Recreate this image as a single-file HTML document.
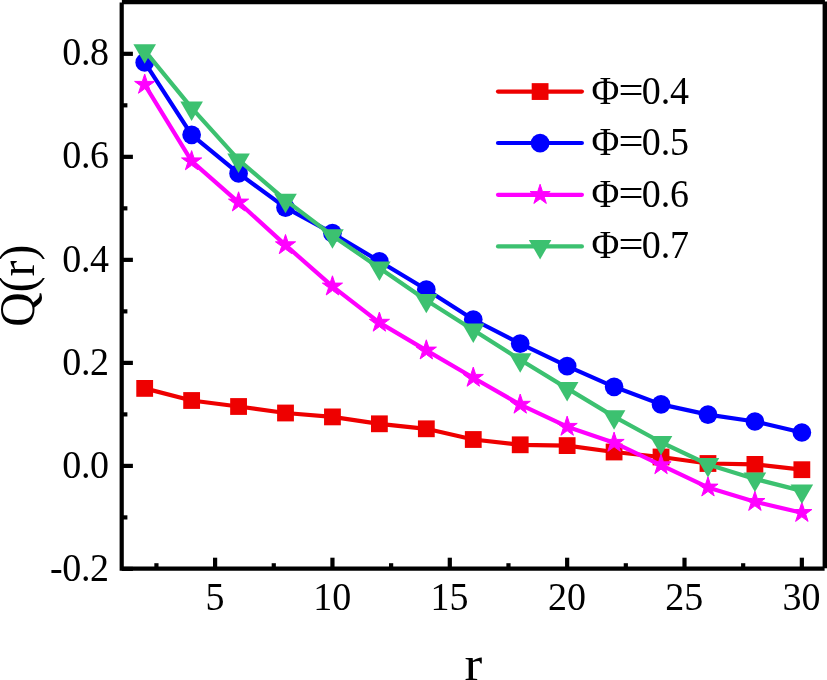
<!DOCTYPE html>
<html lang="en"><head><meta charset="utf-8"><title>Q(r) versus r</title>
<style>
html,body{margin:0;padding:0;background:#fff;}
body{width:827px;height:680px;overflow:hidden;}
svg{display:block;}
text{font-family:"Liberation Serif","Times New Roman",Times,serif;fill:#000;}
.tick{font-size:38px;}
.yt{letter-spacing:-0.4px;}
.lab{font-size:48.5px;}
.leg{font-size:38px;}
</style></head><body>
<svg width="827" height="680" viewBox="0 0 827 680">
<rect x="0" y="0" width="827" height="680" fill="#fff"/>

<g stroke="#000" stroke-width="4.2" fill="none" stroke-linecap="butt">
<line x1="121.9" y1="2.1" x2="824.9000000000001" y2="2.1"/>
<rect x="822.6" y="1.5" width="4.4" height="566.75" fill="#000" stroke="none"/>
<polyline points="121.7,2.6 121.7,568.65 824.6,568.65" stroke-linejoin="miter"/>
<line x1="121.7" y1="568.92" x2="132.9" y2="568.92"/>
<line x1="121.7" y1="517.41" x2="127.4" y2="517.41"/>
<line x1="121.7" y1="465.90" x2="132.9" y2="465.90"/>
<line x1="121.7" y1="414.39" x2="127.4" y2="414.39"/>
<line x1="121.7" y1="362.88" x2="132.9" y2="362.88"/>
<line x1="121.7" y1="311.37" x2="127.4" y2="311.37"/>
<line x1="121.7" y1="259.86" x2="132.9" y2="259.86"/>
<line x1="121.7" y1="208.35" x2="127.4" y2="208.35"/>
<line x1="121.7" y1="156.84" x2="132.9" y2="156.84"/>
<line x1="121.7" y1="105.33" x2="127.4" y2="105.33"/>
<line x1="121.7" y1="53.82" x2="132.9" y2="53.82"/>
<line x1="156.43" y1="568.65" x2="156.43" y2="563.2"/>
<line x1="215.10" y1="568.65" x2="215.10" y2="557.7"/>
<line x1="273.77" y1="568.65" x2="273.77" y2="563.2"/>
<line x1="332.45" y1="568.65" x2="332.45" y2="557.7"/>
<line x1="391.12" y1="568.65" x2="391.12" y2="563.2"/>
<line x1="449.80" y1="568.65" x2="449.80" y2="557.7"/>
<line x1="508.47" y1="568.65" x2="508.47" y2="563.2"/>
<line x1="567.15" y1="568.65" x2="567.15" y2="557.7"/>
<line x1="625.82" y1="568.65" x2="625.82" y2="563.2"/>
<line x1="684.50" y1="568.65" x2="684.50" y2="557.7"/>
<line x1="743.17" y1="568.65" x2="743.17" y2="563.2"/>
<line x1="801.85" y1="568.65" x2="801.85" y2="557.7"/>
</g>
<g class="tick yt" text-anchor="end">
<text transform="translate(108.6,580.5) scale(1,1.045)">-0.2</text>
<text transform="translate(108.6,477.5) scale(1,1.045)">0.0</text>
<text transform="translate(108.6,374.5) scale(1,1.045)">0.2</text>
<text transform="translate(108.6,271.5) scale(1,1.045)">0.4</text>
<text transform="translate(108.6,168.4) scale(1,1.045)">0.6</text>
<text transform="translate(108.6,65.4) scale(1,1.045)">0.8</text>
</g>
<g class="tick" text-anchor="middle">
<text transform="translate(214.9,609.8) scale(1,1.045)">5</text>
<text transform="translate(332.2,609.8) scale(1,1.045)">10</text>
<text transform="translate(449.6,609.8) scale(1,1.045)">15</text>
<text transform="translate(566.9,609.8) scale(1,1.045)">20</text>
<text transform="translate(684.3,609.8) scale(1,1.045)">25</text>
<text transform="translate(801.6,609.8) scale(1,1.045)">30</text>
</g>
<text class="lab" text-anchor="middle" transform="translate(34.4,285.7) rotate(-90) scale(0.983,1.05)">Q(r)</text>
<text class="lab" text-anchor="middle" transform="translate(473.4,679.8) scale(1.1,1.0)">r</text>
<polyline points="144.69,388.40 191.63,400.50 238.57,406.50 285.51,413.00 332.45,416.90 379.39,423.80 426.33,428.80 473.27,439.50 520.21,444.80 567.15,445.60 614.09,452.00 661.03,457.00 707.97,463.50 754.91,464.40 801.85,469.70" fill="none" stroke="#EE0000" stroke-width="4.2" stroke-linejoin="round" stroke-linecap="round"/>
<g fill="#EE0000"><rect x="136.29" y="380.00" width="16.8" height="16.8"/><rect x="183.23" y="392.10" width="16.8" height="16.8"/><rect x="230.17" y="398.10" width="16.8" height="16.8"/><rect x="277.11" y="404.60" width="16.8" height="16.8"/><rect x="324.05" y="408.50" width="16.8" height="16.8"/><rect x="370.99" y="415.40" width="16.8" height="16.8"/><rect x="417.93" y="420.40" width="16.8" height="16.8"/><rect x="464.87" y="431.10" width="16.8" height="16.8"/><rect x="511.81" y="436.40" width="16.8" height="16.8"/><rect x="558.75" y="437.20" width="16.8" height="16.8"/><rect x="605.69" y="443.60" width="16.8" height="16.8"/><rect x="652.63" y="448.60" width="16.8" height="16.8"/><rect x="699.57" y="455.10" width="16.8" height="16.8"/><rect x="746.51" y="456.00" width="16.8" height="16.8"/><rect x="793.45" y="461.30" width="16.8" height="16.8"/></g>
<polyline points="144.69,62.40 191.63,134.80 238.57,173.40 285.51,207.60 332.45,233.20 379.39,261.30 426.33,289.50 473.27,319.50 520.21,343.60 567.15,366.10 614.09,386.80 661.03,404.40 707.97,414.60 754.91,421.50 801.85,432.50" fill="none" stroke="#0000FF" stroke-width="4.2" stroke-linejoin="round" stroke-linecap="round"/>
<g fill="#0000FF"><circle cx="144.69" cy="62.40" r="9.35"/><circle cx="191.63" cy="134.80" r="9.35"/><circle cx="238.57" cy="173.40" r="9.35"/><circle cx="285.51" cy="207.60" r="9.35"/><circle cx="332.45" cy="233.20" r="9.35"/><circle cx="379.39" cy="261.30" r="9.35"/><circle cx="426.33" cy="289.50" r="9.35"/><circle cx="473.27" cy="319.50" r="9.35"/><circle cx="520.21" cy="343.60" r="9.35"/><circle cx="567.15" cy="366.10" r="9.35"/><circle cx="614.09" cy="386.80" r="9.35"/><circle cx="661.03" cy="404.40" r="9.35"/><circle cx="707.97" cy="414.60" r="9.35"/><circle cx="754.91" cy="421.50" r="9.35"/><circle cx="801.85" cy="432.50" r="9.35"/></g>
<polyline points="144.69,84.70 191.63,161.20 238.57,202.40 285.51,245.10 332.45,286.40 379.39,322.60 426.33,350.40 473.27,377.70 520.21,404.60 567.15,426.70 614.09,442.70 661.03,465.10 707.97,487.40 754.91,501.80 801.85,512.80" fill="none" stroke="#FF00FF" stroke-width="4.2" stroke-linejoin="round" stroke-linecap="round"/>
<g fill="#FF00FF"><polygon points="144.69,74.10 147.07,81.42 154.77,81.42 148.54,85.95 150.92,93.28 144.69,88.75 138.46,93.28 140.84,85.95 134.61,81.42 142.31,81.42" stroke="#FF00FF" stroke-width="1" stroke-linejoin="round"/><polygon points="191.63,150.60 194.01,157.92 201.71,157.92 195.48,162.45 197.86,169.78 191.63,165.25 185.40,169.78 187.78,162.45 181.55,157.92 189.25,157.92" stroke="#FF00FF" stroke-width="1" stroke-linejoin="round"/><polygon points="238.57,191.80 240.95,199.12 248.65,199.12 242.42,203.65 244.80,210.98 238.57,206.45 232.34,210.98 234.72,203.65 228.49,199.12 236.19,199.12" stroke="#FF00FF" stroke-width="1" stroke-linejoin="round"/><polygon points="285.51,234.50 287.89,241.82 295.59,241.82 289.36,246.35 291.74,253.68 285.51,249.15 279.28,253.68 281.66,246.35 275.43,241.82 283.13,241.82" stroke="#FF00FF" stroke-width="1" stroke-linejoin="round"/><polygon points="332.45,275.80 334.83,283.12 342.53,283.12 336.30,287.65 338.68,294.98 332.45,290.45 326.22,294.98 328.60,287.65 322.37,283.12 330.07,283.12" stroke="#FF00FF" stroke-width="1" stroke-linejoin="round"/><polygon points="379.39,312.00 381.77,319.32 389.47,319.32 383.24,323.85 385.62,331.18 379.39,326.65 373.16,331.18 375.54,323.85 369.31,319.32 377.01,319.32" stroke="#FF00FF" stroke-width="1" stroke-linejoin="round"/><polygon points="426.33,339.80 428.71,347.12 436.41,347.12 430.18,351.65 432.56,358.98 426.33,354.45 420.10,358.98 422.48,351.65 416.25,347.12 423.95,347.12" stroke="#FF00FF" stroke-width="1" stroke-linejoin="round"/><polygon points="473.27,367.10 475.65,374.42 483.35,374.42 477.12,378.95 479.50,386.28 473.27,381.75 467.04,386.28 469.42,378.95 463.19,374.42 470.89,374.42" stroke="#FF00FF" stroke-width="1" stroke-linejoin="round"/><polygon points="520.21,394.00 522.59,401.32 530.29,401.32 524.06,405.85 526.44,413.18 520.21,408.65 513.98,413.18 516.36,405.85 510.13,401.32 517.83,401.32" stroke="#FF00FF" stroke-width="1" stroke-linejoin="round"/><polygon points="567.15,416.10 569.53,423.42 577.23,423.42 571.00,427.95 573.38,435.28 567.15,430.75 560.92,435.28 563.30,427.95 557.07,423.42 564.77,423.42" stroke="#FF00FF" stroke-width="1" stroke-linejoin="round"/><polygon points="614.09,432.10 616.47,439.42 624.17,439.42 617.94,443.95 620.32,451.28 614.09,446.75 607.86,451.28 610.24,443.95 604.01,439.42 611.71,439.42" stroke="#FF00FF" stroke-width="1" stroke-linejoin="round"/><polygon points="661.03,454.50 663.41,461.82 671.11,461.82 664.88,466.35 667.26,473.68 661.03,469.15 654.80,473.68 657.18,466.35 650.95,461.82 658.65,461.82" stroke="#FF00FF" stroke-width="1" stroke-linejoin="round"/><polygon points="707.97,476.80 710.35,484.12 718.05,484.12 711.82,488.65 714.20,495.98 707.97,491.45 701.74,495.98 704.12,488.65 697.89,484.12 705.59,484.12" stroke="#FF00FF" stroke-width="1" stroke-linejoin="round"/><polygon points="754.91,491.20 757.29,498.52 764.99,498.52 758.76,503.05 761.14,510.38 754.91,505.85 748.68,510.38 751.06,503.05 744.83,498.52 752.53,498.52" stroke="#FF00FF" stroke-width="1" stroke-linejoin="round"/><polygon points="801.85,502.20 804.23,509.52 811.93,509.52 805.70,514.05 808.08,521.38 801.85,516.85 795.62,521.38 798.00,514.05 791.77,509.52 799.47,509.52" stroke="#FF00FF" stroke-width="1" stroke-linejoin="round"/></g>
<polyline points="144.69,50.65 191.63,107.85 238.57,159.85 285.51,200.15 332.45,235.65 379.39,267.95 426.33,300.25 473.27,329.95 520.21,359.65 567.15,388.35 614.09,416.65 661.03,442.25 707.97,464.45 754.91,478.95 801.85,490.85" fill="none" stroke="#3CC170" stroke-width="4.2" stroke-linejoin="round" stroke-linecap="round"/>
<g fill="#3CC170"><polygon points="133.39,44.30 155.99,44.30 144.69,63.70"/><polygon points="180.33,101.50 202.93,101.50 191.63,120.90"/><polygon points="227.27,153.50 249.87,153.50 238.57,172.90"/><polygon points="274.21,193.80 296.81,193.80 285.51,213.20"/><polygon points="321.15,229.30 343.75,229.30 332.45,248.70"/><polygon points="368.09,261.60 390.69,261.60 379.39,281.00"/><polygon points="415.03,293.90 437.63,293.90 426.33,313.30"/><polygon points="461.97,323.60 484.57,323.60 473.27,343.00"/><polygon points="508.91,353.30 531.51,353.30 520.21,372.70"/><polygon points="555.85,382.00 578.45,382.00 567.15,401.40"/><polygon points="602.79,410.30 625.39,410.30 614.09,429.70"/><polygon points="649.73,435.90 672.33,435.90 661.03,455.30"/><polygon points="696.67,458.10 719.27,458.10 707.97,477.50"/><polygon points="743.61,472.60 766.21,472.60 754.91,492.00"/><polygon points="790.55,484.50 813.15,484.50 801.85,503.90"/></g>
<line x1="498.0" y1="91.55" x2="581.9" y2="91.55" stroke="#EE0000" stroke-width="4.2" stroke-linecap="round"/>
<g fill="#EE0000"><rect x="531.70" y="83.15" width="16.8" height="16.8"/></g>
<text class="leg" transform="translate(591.6,104.0) scale(1,1.045)">Φ</text>
<text class="leg" text-anchor="middle" transform="translate(631.0,104.0) scale(1.17,1.045)">=</text>
<text class="leg" transform="translate(641.7,104.0) scale(1,1.045)" dx="0 0.1 -0.3">0.4</text>
<line x1="498.0" y1="143.0" x2="581.9" y2="143.0" stroke="#0000FF" stroke-width="4.2" stroke-linecap="round"/>
<g fill="#0000FF"><circle cx="540.10" cy="143.20" r="9.35"/></g>
<text class="leg" transform="translate(591.6,155.0) scale(1,1.045)">Φ</text>
<text class="leg" text-anchor="middle" transform="translate(631.0,155.0) scale(1.17,1.045)">=</text>
<text class="leg" transform="translate(641.7,155.0) scale(1,1.045)" dx="0 0.1 -0.3">0.5</text>
<line x1="498.0" y1="194.85" x2="581.9" y2="194.85" stroke="#FF00FF" stroke-width="4.2" stroke-linecap="round"/>
<g fill="#FF00FF"><polygon points="540.10,184.25 542.48,191.57 550.18,191.57 543.95,196.10 546.33,203.43 540.10,198.90 533.87,203.43 536.25,196.10 530.02,191.57 537.72,191.57" stroke="#FF00FF" stroke-width="1" stroke-linejoin="round"/></g>
<text class="leg" transform="translate(591.6,207.0) scale(1,1.045)">Φ</text>
<text class="leg" text-anchor="middle" transform="translate(631.0,207.0) scale(1.17,1.045)">=</text>
<text class="leg" transform="translate(641.7,207.0) scale(1,1.045)" dx="0 0.1 -0.3">0.6</text>
<line x1="498.0" y1="246.4" x2="581.9" y2="246.4" stroke="#3CC170" stroke-width="4.2" stroke-linecap="round"/>
<g fill="#3CC170"><polygon points="528.80,240.00 551.40,240.00 540.10,259.40"/></g>
<text class="leg" transform="translate(591.6,258.0) scale(1,1.045)">Φ</text>
<text class="leg" text-anchor="middle" transform="translate(631.0,258.0) scale(1.17,1.045)">=</text>
<text class="leg" transform="translate(641.7,258.0) scale(1,1.045)" dx="0 0.1 -0.3">0.7</text>
</svg></body></html>
